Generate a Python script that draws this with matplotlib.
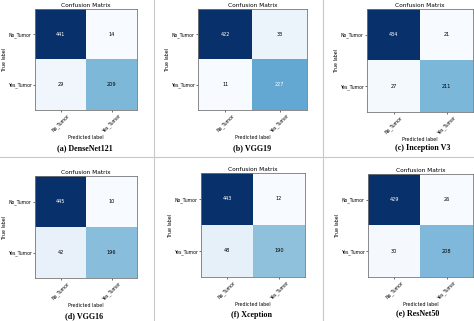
import numpy as np
from matplotlib import pyplot as plt
from matplotlib.lines import Line2D

classes = ['No_Tumor', 'Yes_Tumor']
captions = ['(a) DenseNet121', '(b) VGG19', '(c) Inception V3',
            '(d) VGG16', '(f) Xception', '(e) ResNet50']
cm_densenet = [[441, 14], [29, 209]]
cm_vgg19 = [[422, 33], [11, 227]]
cm_inception = [[434, 21], [27, 211]]
cm_vgg16 = [[445, 10], [42, 196]]
cm_xception = [[443, 12], [48, 190]]
cm_resnet = [[429, 26], [30, 208]]
matrices = [cm_densenet, cm_vgg19, cm_inception, cm_vgg16, cm_xception, cm_resnet]

W, H = 474, 321
# axes boxes in pixels: left, top, right, bottom
boxes = [(35, 9, 137, 110), (198, 9, 307, 110), (367, 9, 473, 112),
         (35, 176, 137, 278), (201, 173, 305, 277), (368, 174, 473, 277)]
# caption centres in pixels
caption_xy = [(85, 148), (252, 148), (423, 148),
              (84, 316), (252, 315), (418, 313)]

fig = plt.figure(figsize=(W / 100, H / 100), dpi=100)

for cm, box, cap, (cx, cy) in zip(matrices, boxes, captions, caption_xy):
    cm = np.array(cm)
    l, t, r, b = box
    ax = fig.add_axes([l / W, 1 - b / H, (r - l) / W, (b - t) / H])
    ax.imshow(cm, cmap='Blues', aspect='auto')
    ax.set_title('Confusion Matrix', fontsize=4.2, pad=1.5)
    ticks = np.arange(len(classes))
    ax.set_xticks(ticks)
    ax.set_yticks(ticks)
    ax.set_xticklabels(classes, rotation=45, fontsize=3.3)
    ax.set_yticklabels(classes, fontsize=3.3)
    ax.tick_params(length=1.5, width=0.4, pad=0.8)
    ax.set_xlabel('Predicted label', fontsize=3.4, labelpad=1)
    ax.set_ylabel('True label', fontsize=3.4, labelpad=1)
    for s in ax.spines.values():
        s.set_linewidth(0.6)
        s.set_color('#777777')
    thresh = cm.max() / 2
    for i in range(cm.shape[0]):
        for j in range(cm.shape[1]):
            ax.text(j, i, str(cm[i, j]), ha='center', va='center', fontsize=3.6,
                    color='white' if cm[i, j] > thresh else 'black')
    fig.text(cx / W, 1 - cy / H, cap, ha='center', va='center',
             fontsize=5.8, fontweight='bold', family='Liberation Serif')

# panel separators
fig.add_artist(Line2D([154 / W, 154 / W], [0, 1], color='#c8c8c8', lw=0.8))
fig.add_artist(Line2D([323 / W, 323 / W], [0, 1], color='#c8c8c8', lw=0.8))
fig.add_artist(Line2D([0, 1], [1 - 157 / H, 1 - 157 / H], color='#c8c8c8', lw=0.8))

fig.savefig('out.png', dpi=100)
